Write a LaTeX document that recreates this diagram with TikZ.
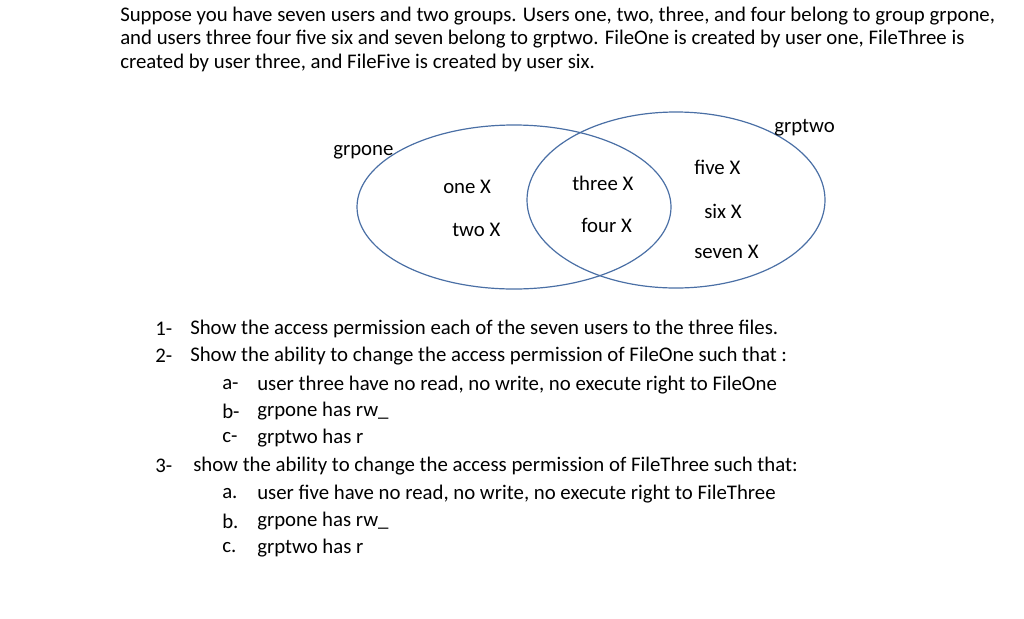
\documentclass[tikz,border=0pt]{standalone}
\usepackage{fontspec}
\setmainfont{Carlito}
\begin{document}
\begin{tikzpicture}[x=0.75pt,y=-0.75pt,
  t/.style={anchor=west,inner sep=0pt,font=\fontsize{15.6}{17.4}\selectfont},
  el/.style={draw=ellblue,line width=0.9pt}]
\definecolor{ellblue}{HTML}{4A6FA5}
\useasboundingbox (0,0) rectangle (1024,618);
\node[t,anchor=north west,align=left] (intro) at (120,7)
 {Suppose you have seven users and two groups. Users one, two, three, and four belong to group grpone,\\ and users three four five six and seven belong to grptwo. FileOne is created by user one, FileThree is\\ created by user three, and FileFive is created by user six.};
\draw[el] (514,207) ellipse [x radius=157, y radius=82];
\draw[el] (676,200) ellipse [x radius=149, y radius=88];
\node[t] (g1) at (333,152) {grpone};
\node[t] (g2) at (774,128) {grptwo};
\node[t] (u1) at (443,187) {one X};
\node[t] (u2) at (452,230) {two X};
\node[t] (u3) at (572,183) {three X};
\node[t] (u4) at (581,225) {four X};
\node[t] (u5) at (694,167) {five X};
\node[t] (u6) at (704,211) {six X};
\node[t] (u7) at (694,252) {seven X};
\node[t] (n1) at (155,329) {1-};
\node[t] (l1) at (190,329) {Show the access permission each of the seven users to the three files.};
\node[t] (n2) at (155,356) {2-};
\node[t] (l2) at (190,356) {Show the ability to change the access permission of FileOne such that :};
\node[t] (na) at (222,385) {a-};
\node[t] (la) at (257,385) {user three have no read, no write, no execute right to FileOne};
\node[t] (nb) at (222,411) {b-};
\node[t] (lb) at (257,411) {grpone has rw\_};
\node[t] (nc) at (222,438) {c-};
\node[t] (lc) at (257,438) {grptwo has r};
\node[t] (n3) at (155,466) {3-};
\node[t] (l3) at (193,466) {show the ability to change the access permission of FileThree such that:};
\node[t] (ma) at (222,494) {a.};
\node[t] (ka) at (257,494) {user five have no read, no write, no execute right to FileThree};
\node[t] (mb) at (222,521) {b.};
\node[t] (kb) at (257,521) {grpone has rw\_};
\node[t] (mc) at (222,548) {c.};
\node[t] (kc) at (257,548) {grptwo has r};
\end{tikzpicture}
\end{document}
